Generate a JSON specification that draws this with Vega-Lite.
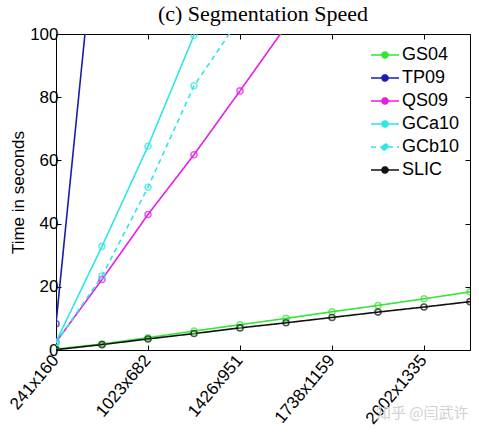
{
  "$schema": "https://vega.github.io/schema/vega-lite/v6.json",
  "width": 414,
  "height": 316,
  "autosize": {"type": "none"},
  "padding": {"left": 56, "top": 34, "right": 9, "bottom": 86},
  "title": {"text": "(c) Segmentation Speed"},
  "data": {
    "values": [
      {"i": 0, "s": "GS04", "v": 0.3}, {"i": 1, "s": "GS04", "v": 1.9}, {"i": 2, "s": "GS04", "v": 3.9},
      {"i": 3, "s": "GS04", "v": 6.0}, {"i": 4, "s": "GS04", "v": 8.0}, {"i": 5, "s": "GS04", "v": 10.0},
      {"i": 6, "s": "GS04", "v": 12.1}, {"i": 7, "s": "GS04", "v": 14.1}, {"i": 8, "s": "GS04", "v": 16.2},
      {"i": 9, "s": "GS04", "v": 18.4},
      {"i": 0, "s": "TP09", "v": 8.3}, {"i": 1, "s": "TP09", "v": 154},
      {"i": 0, "s": "QS09", "v": 2.5}, {"i": 1, "s": "QS09", "v": 22.3}, {"i": 2, "s": "QS09", "v": 42.9},
      {"i": 3, "s": "QS09", "v": 61.8}, {"i": 4, "s": "QS09", "v": 82.0}, {"i": 5, "s": "QS09", "v": 102.5},
      {"i": 0, "s": "GCa10", "v": 2.6}, {"i": 1, "s": "GCa10", "v": 32.8}, {"i": 2, "s": "GCa10", "v": 64.5},
      {"i": 3, "s": "GCa10", "v": 99.6}, {"i": 4, "s": "GCa10", "v": 135},
      {"i": 0, "s": "GCb10", "v": 2.2}, {"i": 1, "s": "GCb10", "v": 23.4}, {"i": 2, "s": "GCb10", "v": 51.5},
      {"i": 3, "s": "GCb10", "v": 83.6}, {"i": 4, "s": "GCb10", "v": 105},
      {"i": 0, "s": "SLIC", "v": 0.1}, {"i": 1, "s": "SLIC", "v": 1.7}, {"i": 2, "s": "SLIC", "v": 3.5},
      {"i": 3, "s": "SLIC", "v": 5.2}, {"i": 4, "s": "SLIC", "v": 7.0}, {"i": 5, "s": "SLIC", "v": 8.6},
      {"i": 6, "s": "SLIC", "v": 10.3}, {"i": 7, "s": "SLIC", "v": 12.0}, {"i": 8, "s": "SLIC", "v": 13.6},
      {"i": 9, "s": "SLIC", "v": 15.3}
    ]
  },
  "layer": [
    {
      "mark": {"type": "line", "clip": true, "strokeWidth": 1.6},
      "encoding": {
        "x": {
          "field": "i", "type": "quantitative",
          "scale": {"domain": [0, 9], "nice": false, "zero": false},
          "axis": {
            "orient": "bottom", "title": null, "values": [0, 2, 4, 6, 8],
            "labelAngle": -50, "labelAlign": "right", "labelBaseline": "top",
            "labelPadding": 7, "labelOffset": -7,
            "labelExpr": "datum.value == 0 ? '241x160' : datum.value == 2 ? '1023x682' : datum.value == 4 ? '1426x951' : datum.value == 6 ? '1738x1159' : '2002x1335'"
          }
        },
        "y": {
          "field": "v", "type": "quantitative",
          "scale": {"domain": [0, 100], "nice": false},
          "axis": {"orient": "left", "title": "Time in seconds", "values": [0, 20, 40, 60, 80, 100], "labelPadding": 3, "titlePadding": 2}
        },
        "color": {
          "field": "s", "type": "nominal", "title": null,
          "scale": {
            "domain": ["GS04", "TP09", "QS09", "GCa10", "GCb10", "SLIC"],
            "range": ["#33e633", "#1c1caa", "#e61ee6", "#2ee6e6", "#2ee6e6", "#111111"]
          },
          "legend": {"encode": {"symbols": {"update": {"fill": {"scale": "color", "field": "value"}}}}}
        },
        "strokeDash": {
          "field": "s", "type": "nominal", "title": null,
          "scale": {
            "domain": ["GS04", "TP09", "QS09", "GCa10", "GCb10", "SLIC"],
            "range": [[1, 0], [1, 0], [1, 0], [1, 0], [5, 4], [1, 0]]
          }
        }
      }
    },
    {
      "mark": {"type": "point", "clip": true, "filled": false, "size": 36, "strokeWidth": 1.6},
      "encoding": {
        "x": {"field": "i", "type": "quantitative", "axis": {"orient": "top", "title": null, "labels": false, "values": [0, 2, 4, 6, 8]}},
        "y": {"field": "v", "type": "quantitative", "axis": {"orient": "right", "title": null, "labels": false, "values": [0, 20, 40, 60, 80, 100]}},
        "color": {"field": "s", "type": "nominal"}
      }
    },
    {
      "data": {"values": [{"x": 7.96, "y": -20, "t": "知乎 @闫武许"}]},
      "mark": {"type": "text", "clip": false, "font": "Noto Sans CJK SC", "fontSize": 15, "color": "#d0d0d0"},
      "encoding": {
        "x": {"field": "x", "type": "quantitative", "axis": null},
        "y": {"field": "y", "type": "quantitative", "axis": null},
        "text": {"field": "t"}
      }
    }
  ],
  "resolve": {"axis": {"x": "independent", "y": "independent"}},
  "config": {
    "background": "white",
    "view": {"stroke": "black", "strokeWidth": 1},
    "title": {"font": "Liberation Serif", "fontSize": 22, "fontWeight": "normal", "color": "black", "offset": 0, "dy": 5, "anchor": "middle"},
    "axis": {
      "domain": false, "grid": false, "tickColor": "black", "tickSize": -5,
      "labelFont": "Liberation Sans", "labelFontSize": 17, "labelColor": "black",
      "titleFont": "Liberation Sans", "titleFontSize": 17, "titleFontWeight": "normal", "titleColor": "black"
    },
    "legend": {
      "orient": "top-right", "offset": 10,
      "symbolType": "M-1.4,0L-0.3,0M0.3,0L1.4,0M-0.3,0A0.3,0.3 0 1,0 0.3,0A0.3,0.3 0 1,0 -0.3,0",
      "symbolSize": 400, "symbolStrokeWidth": 1.6, "symbolOffset": 0,
      "labelFont": "Liberation Sans", "labelFontSize": 18, "labelColor": "black", "labelOffset": 6,
      "rowPadding": 3
    }
  }
}
